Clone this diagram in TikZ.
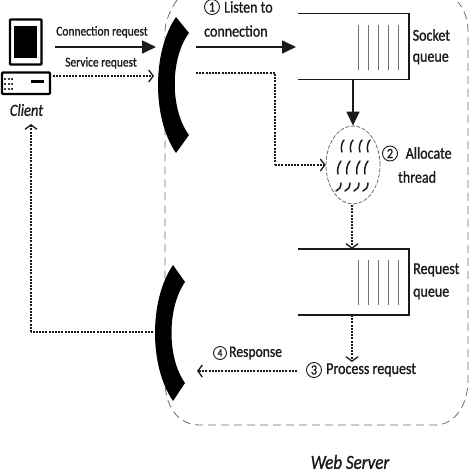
\documentclass[tikz,border=0pt]{standalone}
\usepackage{fontspec}
\setmainfont{Carlito}[FakeStretch=0.85,FakeBold=1.0]
\usetikzlibrary{arrows.meta,calc,shapes.geometric}
\definecolor{ink}{HTML}{1A1A1A}
\definecolor{dashgray}{HTML}{6E6E6E}
\definecolor{slotgray}{HTML}{707070}
\tikzset{
  x=1pt,y=-1pt,
  solidarrow/.style={draw=ink,line width=1.7pt,-{Triangle[length=14pt,width=13pt]}},
  dotline/.style={draw=ink,line width=1.5pt,dash pattern=on 2pt off 1.2pt},
  dotopen/.style={draw=ink,line width=1.5pt,dash pattern=on 2pt off 1.2pt,-{Straight Barb[length=4.5pt,width=12pt,line width=1.3pt]}},
  qline/.style={draw=ink,line width=1.7pt},
  slot/.style={draw=slotgray,line width=1pt},
  label/.style={inner sep=0pt,font=\fontsize{13.5}{15}\selectfont,text=ink},
  biglabel/.style={label,font=\fontsize{16.5}{18}\selectfont,anchor=west},
  num/.style={circle,draw=ink,line width=.9pt,minimum size=15pt,inner sep=0pt,font=\fontsize{14}{14}\selectfont,text=ink},
  thr/.style={draw=ink,line width=1.5pt,line cap=round},
}
\newcommand{\qslots}[2]{\foreach \q in {358,368,378,388,398}{\draw[slot] (\q,#1) -- (\q,#2);}}
\begin{document}
\begin{tikzpicture}
\useasboundingbox (0,0) rectangle (474,474);
\fill[white] (0,0) rectangle (474,474);
% server boundary
\draw[dashgray,line width=.8pt,dash pattern=on 8pt off 5pt]
  (177,0) .. controls (170,10) and (165,22) .. (165,32) -- (165,385)
  .. controls (167,410) and (180,425) .. (200,425) -- (435,425)
  .. controls (455,425) and (468,405) .. (468,380) -- (468,30)
  .. controls (468,18) and (463,8) .. (458,2);
% gates
\fill[black] (176,17) -- (189,33) .. controls (170,58) and (170,110) .. (189,135) -- (176,153)
  .. controls (152,118) and (152,52) .. (176,17) -- cycle;
\fill[black] (173,265) -- (185,282) .. controls (167,308) and (167,358) .. (185,383) -- (173,401)
  .. controls (149,366) and (149,300) .. (173,265) -- cycle;
% client
\draw[black,line width=2.2pt,rounded corners=.8pt] (10,19.5) rectangle (41.5,64.5);
\fill[black] (14,26) rectangle (37,58);
\draw[black,line width=2.2pt,rounded corners=1pt] (2,72.5) rectangle (50,94);
\fill[black] (31,80) rectangle (44,82.5);
\foreach \a in {4,7.5,11}\foreach \b in {78,83,88}{\fill[black!75] (\a,\b) rectangle ++(2,2);}
\node[label,font=\fontsize{17}{18}\selectfont\itshape] (client) at (26.5,110) {Client};
\coordinate (monR) at (53,76);
\coordinate (connS) at (55,47);
\coordinate (connE) at (156,47);
\coordinate (servE) at (154,76);
\coordinate (listenS) at (196,47);
\coordinate (listenE) at (296,47);
\coordinate (dotS) at (196,73);
\coordinate (dotC) at (275,73);
\coordinate (dotD) at (275,165);
\coordinate (retS) at (153,332);
\coordinate (retC) at (31,332);
\coordinate (retE) at (31,124);
\coordinate (respS) at (297,371);
\coordinate (respE) at (197,371);
\node[label] (lconn) at (102,32) {Connection request};
\node[label] (lserv) at (101,63) {Service request};
\draw[solidarrow] (connS) -- (connE);
\draw[dotopen] (monR) -- (servE);
% listen
\node[num] (n1) at (212,7) {1};
\node[biglabel] (llisten) at (224,7) {Listen to};
\node[biglabel] (lconnection) at (204,31) {connection};
\draw[solidarrow] (listenS) -- (listenE);
% socket queue
\draw[qline] (298,13.5) -- (409,13.5) -- (409,79.5) -- (298,79.5);
\qslots{25}{70}
\coordinate (sqB) at (353,79.5);
\node[biglabel] (lsock) at (412.5,35) {Socket};
\node[biglabel] (lsq) at (412.5,59) {queue};
% thread pool
\node[ellipse,draw=dashgray,line width=.8pt,dash pattern=on 4pt off 1.6pt,minimum width=54pt,minimum height=78pt,inner sep=0pt] (pool) at (353,165) {};
\draw[solidarrow] (sqB) -- (pool.north);
\foreach \x in {344,353,362,370}{\draw[thr] (\x,140) .. controls (\x-3,143) and (\x-3,149) .. (\x-2,152);}
\foreach \x in {341,350,360,368}{\draw[thr] (\x,161) .. controls (\x-3,165) and (\x-4,170) .. (\x-3,174);}
\foreach \x in {338,347,356,365}{\draw[thr] (\x+3,183) .. controls (\x+3,187) and (\x+1,190) .. (\x-2,191);}
\node[num] (n2) at (390,153.5) {2};
\node[biglabel] (lalloc) at (405.5,153) {Allocate};
\node[biglabel] (lthread) at (398,177) {thread};
\draw[dotline] (dotS) -- (dotC) -- (dotD);
\draw[dotopen] (dotD) -- (pool.west);
% request queue
\draw[qline] (298,249) -- (409,249) -- (409,315) -- (298,315);
\qslots{260}{305}
\coordinate (rqT) at (352,249);
\coordinate (rqB) at (352,315);
\coordinate (poolS) at (352,205);
\draw[dotopen] (poolS) -- (rqT);
\node[biglabel] (lreq) at (413,270) {Request};
\node[biglabel] (lrq) at (413,294) {queue};
% process
\node[num] (n3) at (314,370) {3};
\node[biglabel] (lproc) at (326,370) {Process request};
\coordinate (procT) at (352,362);
\draw[dotopen] (rqB) -- (procT);
% response
\node[num,minimum size=13pt,font=\fontsize{11}{11}\selectfont] (n4) at (220,353) {4};
\node[biglabel,font=\fontsize{16}{16}\selectfont] (lresp) at (229,353) {Response};
\draw[dotopen] (respS) -- (respE);
\draw[dotline] (retS) -- (retC);
\draw[dotopen] (retC) -- (retE);
\node[label,font=\fontsize{20}{22}\selectfont\itshape] (lweb) at (350,462) {Web Server};
\end{tikzpicture}
\end{document}
